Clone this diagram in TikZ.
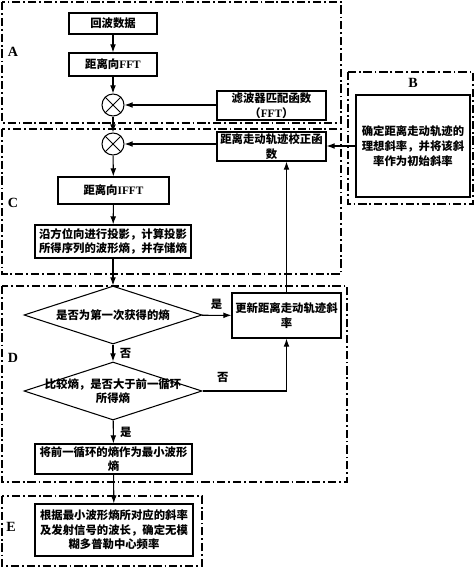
\documentclass[tikz,border=0pt]{standalone}
\usepackage{fontspec}
\setmainfont{Liberation Serif}
\newfontfamily\cjk{Noto Sans CJK SC}
\usetikzlibrary{arrows.meta,shapes.geometric}

\begin{document}
\begin{tikzpicture}[x=0.03cm,y=-0.03cm,
  box/.style={draw, line width=0.9pt, inner sep=1pt, align=center, font=\cjk\bfseries\fontsize{9.7}{12.5}\selectfont},
  region/.style={line width=1pt, dash pattern=on 7pt off 2.5pt on 1.5pt off 2.5pt},
  tag/.style={font=\bfseries\fontsize{12}{14}\selectfont},
  yn/.style={font=\cjk\bfseries\fontsize{9.7}{12}\selectfont},
  flow/.style={-{Latex[length=7pt,width=5pt]}, line width=0.9pt},
  mult/.style={circle, draw, line width=0.9pt, minimum size=0.66cm, inner sep=0pt,
    path picture={\draw[line width=0.9pt] (path picture bounding box.north west) -- (path picture bounding box.south east)
      (path picture bounding box.north east) -- (path picture bounding box.south west);}},
  decision/.style={diamond, draw, line width=0.9pt, shape aspect=3, inner sep=0pt, minimum width=5.34cm, minimum height=1.74cm},
  dtext/.style={font=\cjk\bfseries\fontsize{9.7}{12.5}\selectfont, align=center}]
  \useasboundingbox (0,0) rectangle (474,567);

  % Regions
  \draw[region] (2,2) rectangle (341,123);
  \draw[region] (348,72) rectangle (473,204);
  \draw[region] (2,129) rectangle (341,274);
  \draw[region] (2,286) rectangle (347,482);
  \draw[region] (2,496) rectangle (202,566);
  \node[tag] (tA) at (13,52) {A};
  \node[tag] (tB) at (413,83) {B};
  \node[tag] (tC) at (13,203) {C};
  \node[tag] (tD) at (13,358) {D};
  \node[tag] (tE) at (11,527) {E};

  % Region A
  \node[box, minimum width=2.64cm, minimum height=0.63cm] (echo) at (113,23.5) {回波数据};
  \node[box, minimum width=2.64cm, minimum height=0.69cm] (rfft) at (113,64.5) {距离向\textrm{FFT}};
  \node[mult] (mix1) at (113,105) {};
  \node[box, minimum width=3.27cm, minimum height=0.87cm] (filt) at (271.5,105.5) {滤波器匹配函数\\（\textrm{FFT}）};

  % Region B
  \node[box, minimum width=3.42cm, minimum height=3.06cm] (slopeinit) at (413,146) {确定距离走动轨迹的\\理想斜率，并将该斜\\率作为初始斜率};

  % Region C
  \node[mult] (mix2) at (113,144) {};
  \node[box, minimum width=3.27cm, minimum height=0.87cm] (corr) at (271.5,146.5) {距离走动轨迹校正函\\数};
  \node[box, minimum width=3.33cm, minimum height=0.81cm] (rifft) at (113.5,190.5) {距离向\textrm{IFFT}};
  \node[box, minimum width=4.68cm, minimum height=0.99cm] (proj) at (113,241.5) {沿方位向进行投影，计算投影\\所得序列的波形熵，并存储熵};

  % Region D
  \node[decision, label={[dtext]center:是否为第一次获得的熵}] (first) at (113,315) {};
  \node[box, minimum width=3.27cm, minimum height=1.35cm] (update) at (286.5,315.5) {更新距离走动轨迹斜\\率};
  \node[decision, label={[dtext]center:比较熵，是否大于前一循环\\所得熵}] (cmp) at (113,391) {};
  \node[box, minimum width=4.71cm, minimum height=0.9cm] (minent) at (113.5,459) {将前一循环的熵作为最小波形\\熵};

  % Region E
  \node[box, minimum width=4.74cm, minimum height=1.56cm] (freq) at (114,530) {根据最小波形熵所对应的斜率\\及发射信号的波长，确定无模\\糊多普勒中心频率};

  % Arrows
  \draw[flow] (echo) -- (rfft);
  \draw[flow] (rfft) -- (mix1);
  \draw[flow] (filt.west |- mix1.east) -- (mix1);
  \draw[flow] (mix1) -- (mix2);
  \draw[flow] (corr.west |- mix2.east) -- (mix2);
  \draw[flow] (slopeinit.west) -- (slopeinit.west -| corr.east);
  \draw[flow] (mix2) -- (rifft);
  \draw[flow] (rifft) -- (proj);
  \draw[flow] (proj) -- (first);
  \draw[flow] (first) -- node[yn, above=1pt] {是} (update);
  \draw[flow] (first) -- node[yn, right=2pt] {否} (cmp);
  \draw[flow] (cmp.east) -| node[yn, above=3pt, pos=0.12] {否} (update.south);
  \draw[flow] (update.north) -- (update.north |- corr.south);
  \draw[flow] (cmp) -- node[yn, right=2pt] {是} (minent);
  \draw[flow] (minent) -- (freq);
\end{tikzpicture}
\end{document}
